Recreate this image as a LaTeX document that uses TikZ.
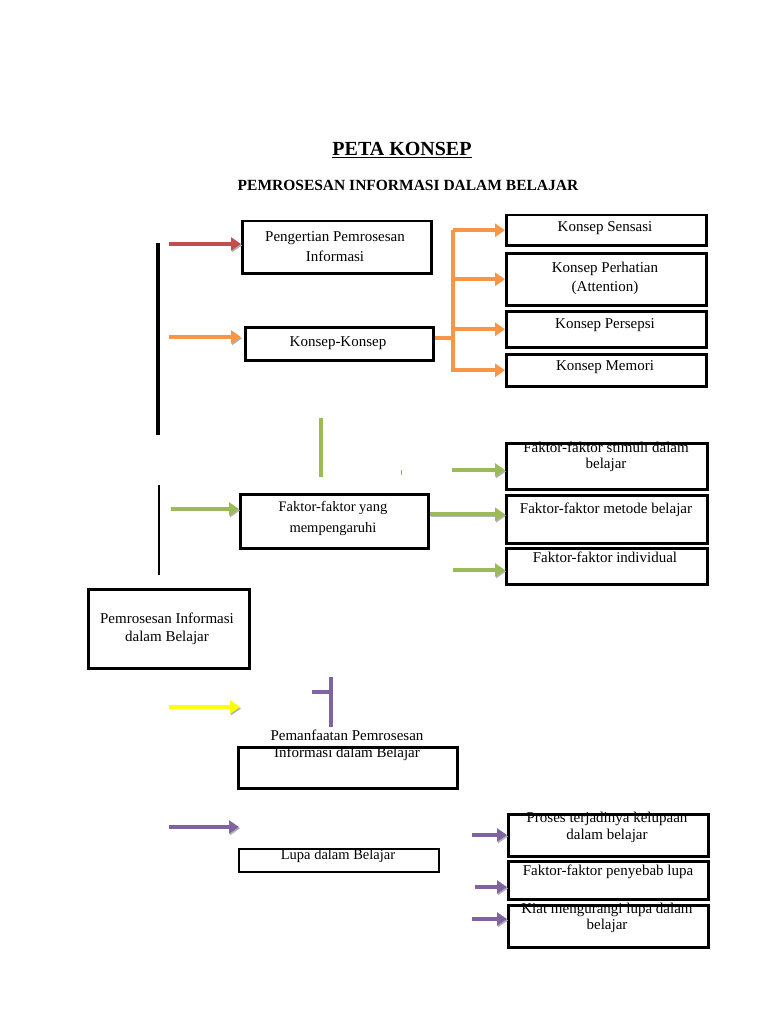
\documentclass[tikz,border=0pt]{standalone}
\usepackage{fontspec}
\setmainfont{Liberation Serif}
\usetikzlibrary{arrows.meta,calc}
\definecolor{cred}{HTML}{C0504D}
\definecolor{corange}{HTML}{F79646}
\definecolor{cgreen}{HTML}{9BBB59}
\definecolor{cyellow}{HTML}{FFFF00}
\definecolor{cpurple}{HTML}{8064A2}
\begin{document}
\begin{tikzpicture}[x=1pt,y=-1pt,
  box/.style={draw=black, line width=2.5pt, inner sep=0pt, anchor=north west},
  lbl/.style={font=\fontsize{15}{18}\selectfont, align=center, inner sep=0pt},
  tip/.style={-{Triangle[length=10pt,width=13pt]}},
  arr/.style={line width=4pt, tip,
    preaction={draw=black!30, transform canvas={shift={(1pt,-1.5pt)}}}},
  trunk/.style={line width=4pt, line cap=butt},
]
\useasboundingbox[fill=white] (0,0) rectangle (768,1024);

% titles
\node[font=\bfseries\fontsize{20}{24}\selectfont, inner sep=0pt] (title) at (402,150) {\underline{PETA KONSEP}};
\node[font=\bfseries\fontsize{15.5}{18}\selectfont, inner sep=0pt] (subtitle) at (408,185) {PEMROSESAN INFORMASI DALAM BELAJAR};

% boxes
\node[box, minimum width=189pt, minimum height=52pt] (peng) at (241,220) {};
\node[box, minimum width=188pt, minimum height=33pt] (kk) at (244,326) {};
\node[box, minimum width=200pt, minimum height=30pt] (sens) at (505,214) {};
\node[box, minimum width=200pt, minimum height=52pt] (perh) at (505,252) {};
\node[box, minimum width=200pt, minimum height=36pt] (pers) at (505,310) {};
\node[box, minimum width=200pt, minimum height=32pt] (memo) at (505,353) {};
\node[box, minimum width=188pt, minimum height=54pt] (fak) at (239,493) {};
\node[box, minimum width=201pt, minimum height=46pt] (stim) at (505,442) {};
\node[box, minimum width=201pt, minimum height=48pt] (meto) at (505,494) {};
\node[box, minimum width=201pt, minimum height=36pt] (indi) at (505,547) {};
\node[box, line width=2.8pt, minimum width=161pt, minimum height=79pt] (pemr) at (87,588) {};
\node[box, minimum width=219pt, minimum height=41pt] (pman) at (237,746) {};
\node[box, line width=2pt, minimum width=200pt, minimum height=23pt] (lupa) at (238,848) {};
\node[box, minimum width=200pt, minimum height=42pt] (pros) at (507,813) {};
\node[box, minimum width=200pt, minimum height=38pt] (peny) at (507,860) {};
\node[box, minimum width=200pt, minimum height=42pt] (kiat) at (507,904) {};

% texts
\node[lbl, font=\fontsize{15}{20}\selectfont] (tpeng) at (335,247) {Pengertian Pemrosesan\\Informasi};
\node[lbl] (tkk) at (338,343) {Konsep-Konsep};
\node[lbl] (tsens) at (605,228) {Konsep Sensasi};
\node[lbl, font=\fontsize{15}{19}\selectfont] (tperh) at (605,278) {Konsep Perhatian\\(Attention)};
\node[lbl] (tpers) at (605,325) {Konsep Persepsi};
\node[lbl] (tmemo) at (605,367) {Konsep Memori};
\node[lbl, font=\fontsize{14.5}{21}\selectfont] (tfak) at (333,518) {Faktor-faktor yang\\mempengaruhi};
\node[lbl, font=\fontsize{15}{16}\selectfont] (tstim) at (606,457) {Faktor-faktor stimuli dalam\\belajar};
\node[lbl] (tmeto) at (606,510) {Faktor-faktor metode belajar};
\node[lbl] (tindi) at (605,557) {Faktor-faktor individual};
\node[lbl] (tpemr) at (167,629) {Pemrosesan Informasi\\dalam Belajar};
\node[lbl, font=\fontsize{15}{17}\selectfont] (tpman) at (347,745) {Pemanfaatan Pemrosesan\\Informasi dalam Belajar};
\node[lbl, font=\fontsize{14.5}{17}\selectfont] (tlupa) at (338,856) {Lupa dalam Belajar};
\node[lbl, font=\fontsize{15}{17}\selectfont] (tpros) at (607,827) {Proses terjadinya kelupaan\\dalam belajar};
\node[lbl] (tpeny) at (608,872) {Faktor-faktor penyebab lupa};
\node[lbl, font=\fontsize{15}{16}\selectfont] (tkiat) at (607,918) {Kiat mengurangi lupa dalam\\belajar};

% free coordinates
\coordinate (bl1a) at (158,243); \coordinate (bl1b) at (158,435);
\coordinate (bl2a) at (159,485); \coordinate (bl2b) at (159,575);
\coordinate (ra) at (169,244);
\coordinate (oa) at (169,337);
\coordinate (ga) at (171,509);
\coordinate (ya) at (169,707); \coordinate (yb) at (240,707);
\coordinate (pa) at (169,827); \coordinate (pb) at (239,827);
\coordinate (otx) at (453,0);
\coordinate (gv1) at (321,418); \coordinate (gv2) at (321,477);
\coordinate (tick1) at (401,470); \coordinate (tick2) at (401,475);
\coordinate (g1) at (452,470);
\coordinate (g3) at (453,570);
\coordinate (pv1) at (331,677); \coordinate (pv2) at (331,727);
\coordinate (ph1) at (312,692); \coordinate (ph2) at (331,692);
\coordinate (p1) at (472,835);
\coordinate (p2) at (475,887);
\coordinate (p3) at (472,919);

% black vertical lines
\draw[line width=4pt] (bl1a) -- (bl1b);
\draw[line width=2pt] (bl2a) -- (bl2b);

% left arrows
\draw[arr, cred] (ra) -- (ra -| peng.west);
\draw[arr, corange] (oa) -- ([xshift=-3pt]oa -| kk.west);
\draw[arr, cgreen] (ga) -- (ga -| fak.west);
\draw[arr, cyellow] (ya) -- (yb);
\draw[arr, cpurple] (pa) -- (pb);

% orange tree
\draw[trunk, corange] ([yshift=6pt]kk.east) -- ([yshift=6pt]kk.east -| otx);
\draw[line width=4pt, corange, line join=miter, tip] (otx |- sens.west) -- (otx |- memo.west) -- (memo.west);
\draw[line width=4pt, corange, tip] (otx |- sens.west) -- (sens.west);
\draw[line width=4pt, corange, tip] (otx |- perh.west) -- (perh.west);
\draw[line width=4pt, corange, tip] (otx |- pers.west) -- (pers.west);

% green part
\draw[line width=3.5pt, cgreen] (gv1) -- (gv2);
\draw[line width=0.9pt, cgreen!60!brown] (tick1) -- (tick2);
\draw[arr, cgreen] (g1) -- (g1 -| stim.west);
\draw[arr, cgreen] ([yshift=7pt]fak.east) -- ([yshift=7pt]fak.east -| meto.west);
\draw[arr, cgreen] (g3) -- (g3 -| indi.west);

% purple part
\draw[line width=4pt, cpurple] (pv1) -- (pv2);
\draw[line width=4pt, cpurple, preaction={draw=black!30, transform canvas={shift={(0pt,-1.5pt)}}}] (ph1) -- (ph2);
\draw[arr, cpurple] (p1) -- (p1 -| pros.west);
\draw[arr, cpurple] (p2) -- (p2 -| peny.west);
\draw[arr, cpurple] (p3) -- (p3 -| kiat.west);
\end{tikzpicture}
\end{document}
